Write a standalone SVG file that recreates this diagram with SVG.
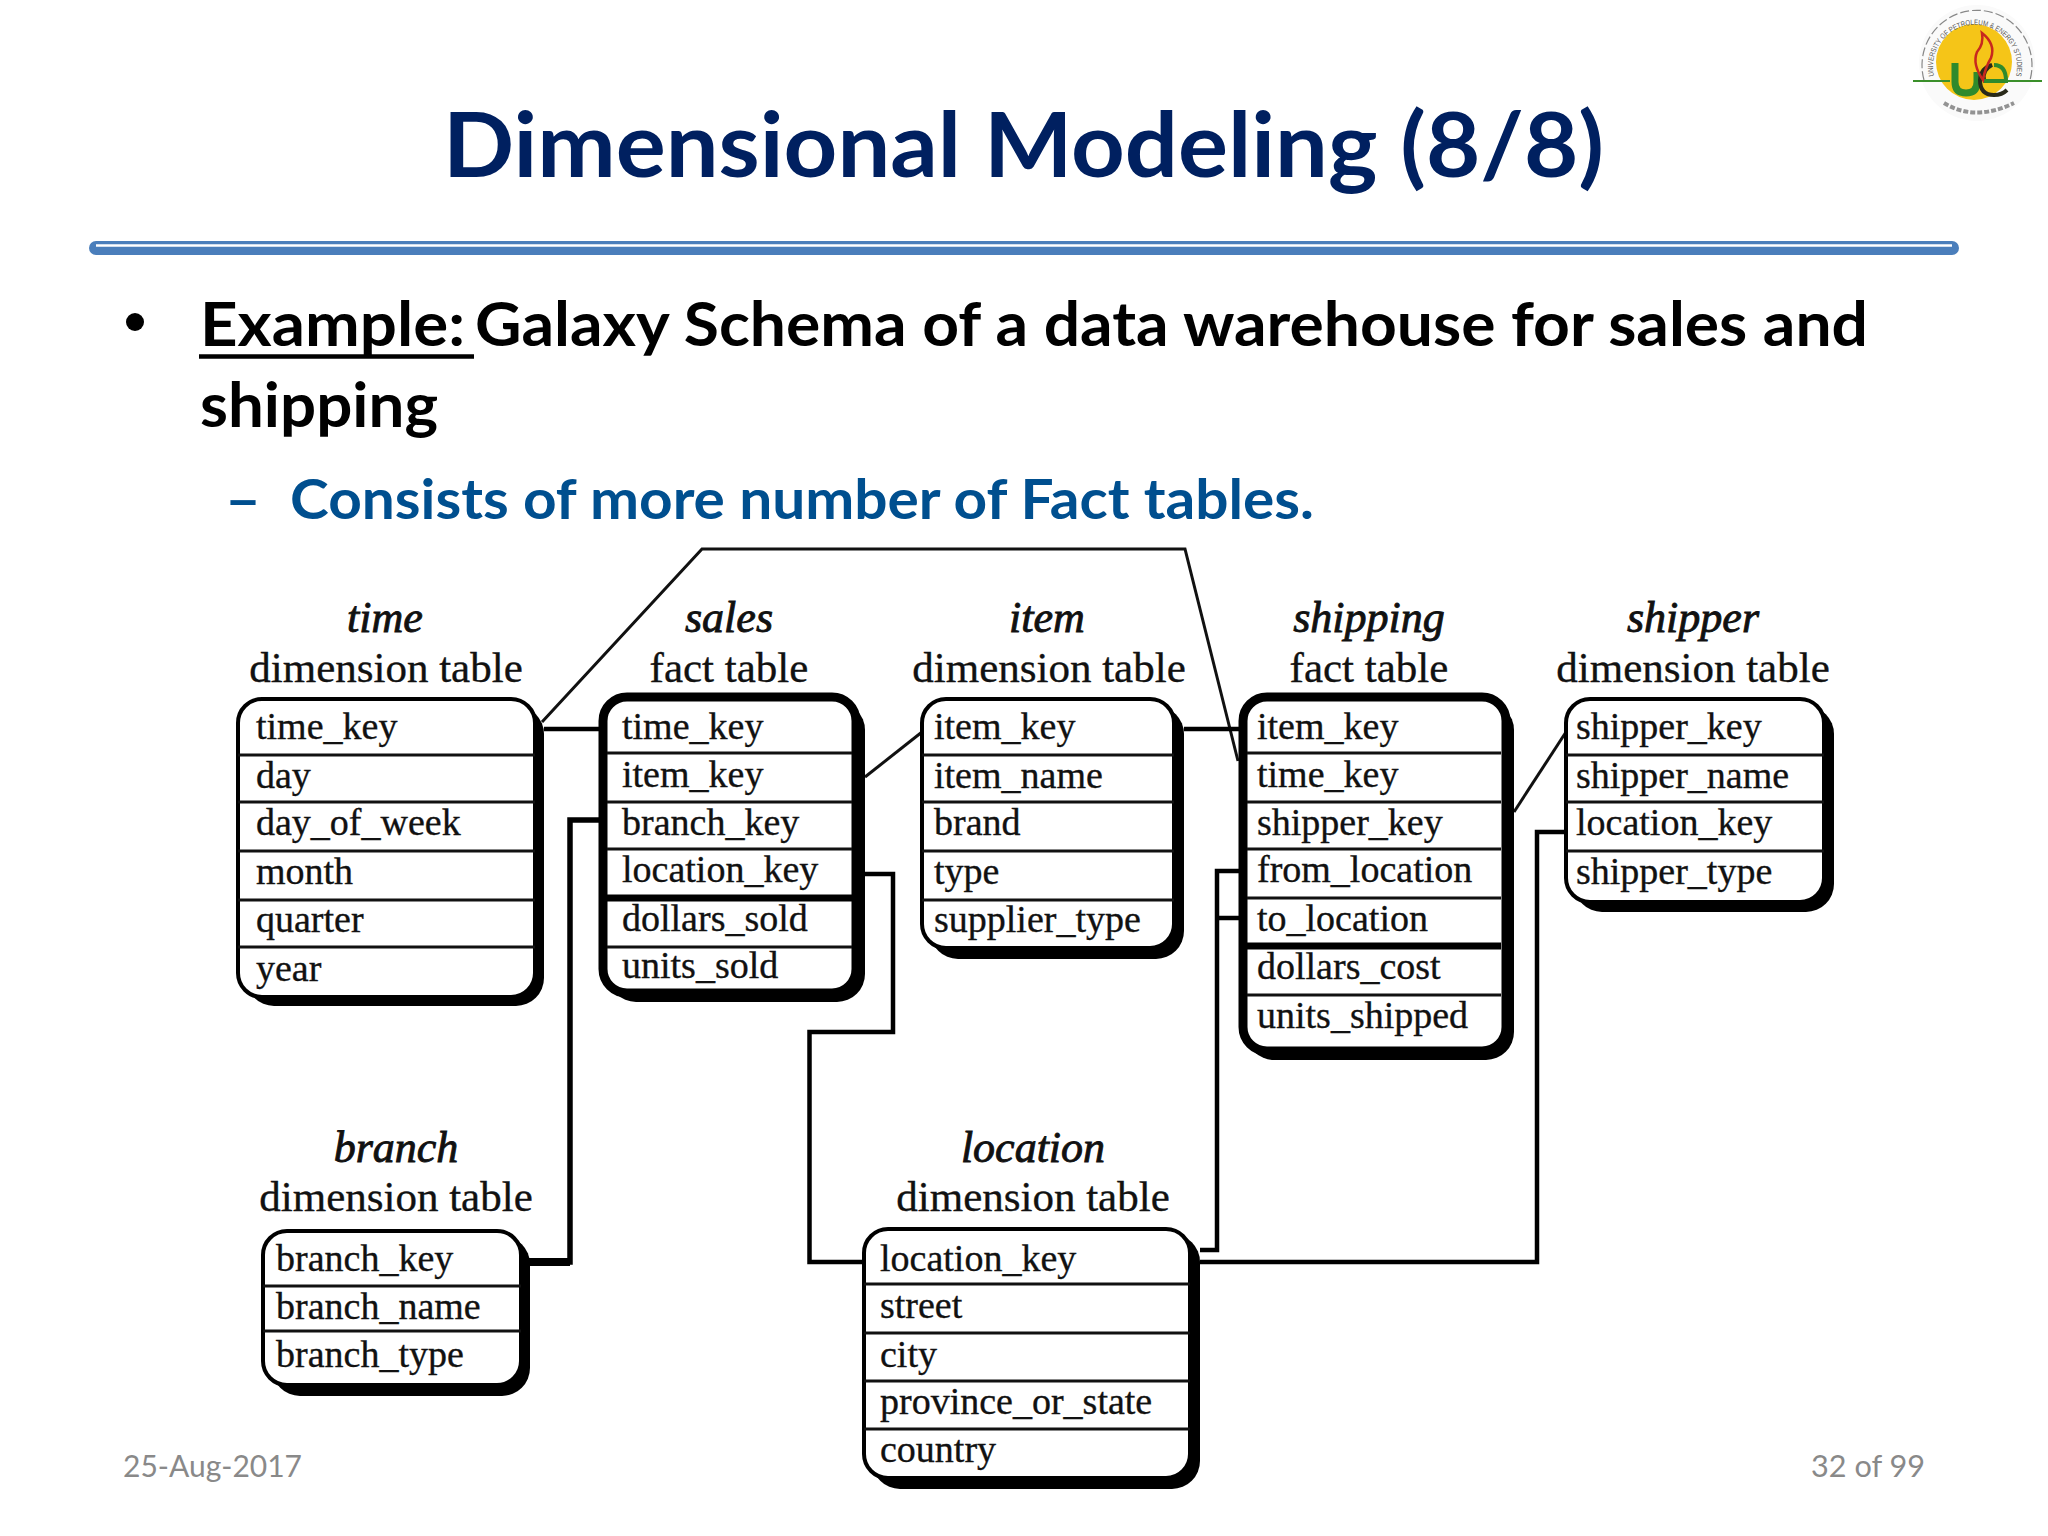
<svg xmlns="http://www.w3.org/2000/svg" width="2048" height="1536" viewBox="0 0 2048 1536">
<defs>
<style>
.h{font-family:Lato,"Liberation Sans",sans-serif;font-weight:700}
.f{font-family:"Liberation Serif",serif;font-size:38px;fill:#111;stroke:#111;stroke-width:.35}
.t{font-family:"Liberation Serif",serif;font-size:43px;fill:#111;stroke:#111;stroke-width:.35;text-anchor:middle}
.i{font-style:italic;font-family:"Liberation Serif",serif;font-size:44px;fill:#111;stroke:#111;stroke-width:.9;text-anchor:middle}
.box{fill:#fff;stroke:#000;stroke-width:4}
.fact{fill:#fff;stroke:#000;stroke-width:9}
.sh{fill:#000}
.r{stroke:#111;stroke-width:3;fill:none}
.rb{stroke:#000;stroke-width:7;fill:none}
.c{fill:none;stroke:#000;stroke-width:4.5}
.n{fill:none;stroke:#111;stroke-width:3}
.ft{font-family:Lato,"Liberation Sans",sans-serif;font-size:31px;fill:#898989}
</style>
</defs>
<rect width="2048" height="1536" fill="#fff"/>
<g id="logo">
<circle cx="1977" cy="63" r="58" fill="#fafafa"/>
<path d="M1924 80A55 55 0 1 1 2030 80" fill="none" stroke="#888" stroke-width="1.200" stroke-dasharray="9 3"/>
<circle cx="1974" cy="62" r="38" fill="#f5c518"/>
<path id="la" d="M1934 76A42 42 0 1 1 2016 76" fill="none"/>
<text font-family="'Liberation Sans',sans-serif" font-size="7.500" fill="#555"><textPath href="#la" textLength="150" lengthAdjust="spacingAndGlyphs">UNIVERSITY OF PETROLEUM &amp; ENERGY STUDIES</textPath></text>
<path d="M1913 81H1950M2008 81H2042" stroke="#3a8f2a" stroke-width="2" fill="none"/>
<path d="M1955 63V82Q1955 93 1966 93Q1977 93 1977 82V72" fill="none" stroke="#2f8a2c" stroke-width="7"/>
<path d="M1984 80Q1982 70 1992 65Q1981 68 1980 80Q1980 95 1994 95Q2002 95 2007 90" fill="none" stroke="#2a2a1a" stroke-width="4"/>
<path d="M1983 81H2006Q2006 65 1994 65" fill="none" stroke="#2f8a2c" stroke-width="4"/>
<path d="M1982 33Q1996 44 1991 58Q1985 68 1983 80Q1972 64 1977 52Q1984 44 1982 33Z" fill="none" stroke="#c8281e" stroke-width="2.500"/>
<path d="M1944 103Q1975 122 2014 103" fill="none" stroke="#666" stroke-width="4" stroke-dasharray="5 2" opacity=".7"/>
</g>
<g id="header">
<text class="h" x="443" y="177" font-size="89" fill="#002060" textLength="1161" lengthAdjust="spacingAndGlyphs">Dimensional Modeling (8/8)</text>
<rect x="89" y="241" width="1870" height="14" rx="7" fill="#4a7ebb"/>
<path d="M96 245.500H1952" stroke="#fff" stroke-width="2.500" fill="none"/>
</g>
<g id="body">
<circle cx="135" cy="322" r="9" fill="#000"/>
<text class="h" x="200" y="346" font-size="61" fill="#000" textLength="265" lengthAdjust="spacingAndGlyphs">Example:</text>
<path d="M199 356.500H474" stroke="#000" stroke-width="4.500" fill="none"/>
<text class="h" x="475" y="346" font-size="61" fill="#000" textLength="1393" lengthAdjust="spacingAndGlyphs">Galaxy Schema of a data warehouse for sales and</text>
<text class="h" x="200" y="427" font-size="61" fill="#000" textLength="238" lengthAdjust="spacingAndGlyphs">shipping</text>
<text class="h" x="225" y="519" font-size="56" fill="#004f8f" textLength="36" lengthAdjust="spacingAndGlyphs">–</text>
<text class="h" x="290" y="519" font-size="56" fill="#004f8f" textLength="1024" lengthAdjust="spacingAndGlyphs">Consists of more number of Fact tables.</text>
</g>
<g id="connectors">
<path class="n" d="M542 722L702 549H1185L1238 761"/>
<path class="c" d="M544 729H602"/>
<path class="n" d="M865 777L922 732"/>
<path class="c" d="M1184 729H1240"/>
<path class="n" d="M1514 812L1566 732"/>
<path class="c" style="stroke-width:5.500" d="M529 1262H570V820H602"/>
<path d="M529 1262H570" stroke="#000" stroke-width="8" fill="none"/>
<path class="c" d="M865 874H893V1032H809.500V1262H866"/>
<path class="c" d="M1240 871H1217V1250H1200"/>
<path class="c" d="M1240 918H1217"/>
<path class="c" d="M1200 1262H1537V832H1568"/>
</g>
<g id="time">
<text class="i" x="385" y="632">time</text><text class="t" x="386" y="682">dimension table</text>
<rect class="sh" x="246" y="706" width="298" height="300" rx="28"/>
<rect class="box" x="238" y="699" width="297" height="298" rx="24"/>
<path class="r" d="M238 755H535M238 802H535M238 851H535M238 900H535M238 947H535"/>
<text class="f" x="256" y="739">time_key</text><text class="f" x="256" y="788">day</text><text class="f" x="256" y="835">day_of_week</text><text class="f" x="256" y="884">month</text><text class="f" x="256" y="932">quarter</text><text class="f" x="256" y="981">year</text>
</g>
<g id="sales">
<text class="i" x="729" y="632">sales</text><text class="t" x="729" y="682">fact table</text>
<rect class="sh" x="608" y="702" width="257" height="300" rx="28"/>
<rect class="fact" x="603" y="697" width="253" height="296" rx="24"/>
<path class="r" d="M607 753H852M607 802H852M607 849H852M607 947H852"/><path class="rb" d="M607 898H852"/>
<text class="f" x="622" y="739">time_key</text><text class="f" x="622" y="787">item_key</text><text class="f" x="622" y="835">branch_key</text><text class="f" x="622" y="882">location_key</text><text class="f" x="622" y="931">dollars_sold</text><text class="f" x="622" y="978">units_sold</text>
</g>
<g id="item">
<text class="i" x="1047" y="632">item</text><text class="t" x="1049" y="682">dimension table</text>
<rect class="sh" x="930" y="706" width="254" height="253" rx="28"/>
<rect class="box" x="922" y="699" width="252" height="249" rx="24"/>
<path class="r" d="M922 755H1174M922 802H1174M922 851H1174M922 900H1174"/>
<text class="f" x="934" y="739">item_key</text><text class="f" x="934" y="788">item_name</text><text class="f" x="934" y="835">brand</text><text class="f" x="934" y="884">type</text><text class="f" x="934" y="932">supplier_type</text>
</g>
<g id="shipping">
<text class="i" x="1369" y="632">shipping</text><text class="t" x="1369" y="682">fact table</text>
<rect class="sh" x="1246" y="702" width="268" height="358" rx="28"/>
<rect class="fact" x="1243" y="697" width="263" height="354" rx="24"/>
<path class="r" d="M1247 753H1501M1247 802H1501M1247 849H1501M1247 898H1501M1247 995H1501"/><path class="rb" d="M1247 946H1501"/>
<text class="f" x="1257" y="739">item_key</text><text class="f" x="1257" y="787">time_key</text><text class="f" x="1257" y="835">shipper_key</text><text class="f" x="1257" y="882">from_location</text><text class="f" x="1257" y="931">to_location</text><text class="f" x="1257" y="979">dollars_cost</text><text class="f" x="1257" y="1028">units_shipped</text>
</g>
<g id="shipper">
<text class="i" x="1693" y="632">shipper</text><text class="t" x="1693" y="682">dimension table</text>
<rect class="sh" x="1574" y="706" width="260" height="206" rx="28"/>
<rect class="box" x="1566" y="699" width="258" height="203" rx="24"/>
<path class="r" d="M1566 755H1824M1566 802H1824M1566 851H1824"/>
<text class="f" x="1576" y="739">shipper_key</text><text class="f" x="1576" y="788">shipper_name</text><text class="f" x="1576" y="835">location_key</text><text class="f" x="1576" y="884">shipper_type</text>
</g>
<g id="branch">
<text class="i" x="396" y="1162">branch</text><text class="t" x="396" y="1211">dimension table</text>
<rect class="sh" x="272" y="1236" width="258" height="160" rx="28"/>
<rect class="box" x="263" y="1231" width="258" height="154" rx="24"/>
<path class="r" d="M263 1286H521M263 1331H521"/>
<text class="f" x="276" y="1271">branch_key</text><text class="f" x="276" y="1319">branch_name</text><text class="f" x="276" y="1367">branch_type</text>
</g>
<g id="location">
<text class="i" x="1033" y="1162">location</text><text class="t" x="1033" y="1211">dimension table</text>
<rect class="sh" x="872" y="1234" width="328" height="255" rx="28"/>
<rect class="box" x="864" y="1229" width="326" height="249" rx="24"/>
<path class="r" d="M864 1284H1190M864 1333H1190M864 1381H1190M864 1429H1190"/>
<text class="f" x="880" y="1271">location_key</text><text class="f" x="880" y="1318">street</text><text class="f" x="880" y="1367">city</text><text class="f" x="880" y="1414">province_or_state</text><text class="f" x="880" y="1462">country</text>
</g>
<g id="footer">
<text class="ft" x="123" y="1477" textLength="179" lengthAdjust="spacingAndGlyphs">25-Aug-2017</text>
<text class="ft" x="1811" y="1477" textLength="114" lengthAdjust="spacingAndGlyphs">32 of 99</text>
</g>
</svg>
